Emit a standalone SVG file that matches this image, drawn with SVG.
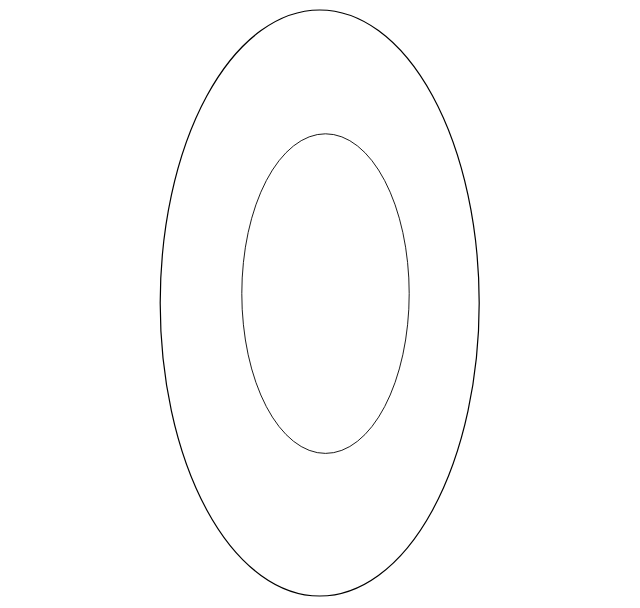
<svg xmlns="http://www.w3.org/2000/svg" width="640" height="608" viewBox="0 0 640 608">
<style>.e{fill:none;stroke:#000}</style>
<rect width="640" height="608" fill="#fff"/>
<ellipse class="e" cx="319.7" cy="303" rx="159.5" ry="293" stroke-width="1.2"/>
<ellipse class="e" cx="325.5" cy="293.6" rx="83.7" ry="159.8" stroke-width="0.9"/>
</svg>
